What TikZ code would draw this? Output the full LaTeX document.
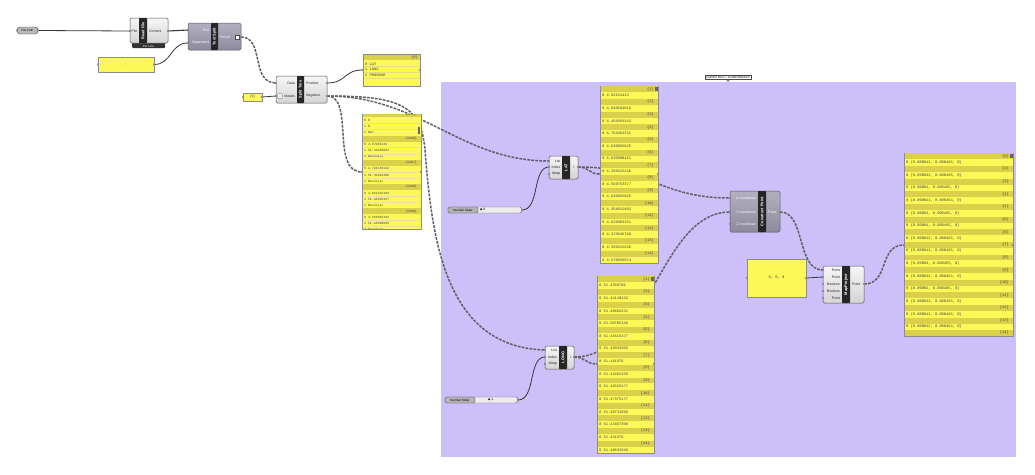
\documentclass[tikz,border=0pt]{standalone}
\usepackage{fontspec}
\setmainfont{Liberation Sans}
\newfontfamily\pmono{Liberation Mono}
\newfontfamily\dvs{DejaVu Sans}
\usetikzlibrary{calc}
\pgfdeclarelayer{grplayer}
\pgfdeclarelayer{wirelayer}
\pgfsetlayers{grplayer,wirelayer,main}
\definecolor{grp}{RGB}{205,191,249}
\definecolor{pyel}{RGB}{252,248,88}
\definecolor{phead}{RGB}{218,208,74}
\definecolor{wirec}{RGB}{55,55,60}
\definecolor{lwirec}{RGB}{95,95,102}
\definecolor{compt}{RGB}{246,246,246}
\definecolor{compb}{RGB}{212,212,212}
\definecolor{compdt}{RGB}{178,176,192}
\definecolor{compdb}{RGB}{140,138,156}
\definecolor{edge}{RGB}{85,85,90}
\tikzset{
 comp/.style={draw=edge, line width=0.5pt, rounded corners=1.5pt, top color=compt, bottom color=compb, inner sep=0pt},
 compdk/.style={draw=edge, line width=0.5pt, rounded corners=1.5pt, top color=compdt, bottom color=compdb, inner sep=0pt},
 stripbox/.style={fill=black!85, inner sep=0pt, rounded corners=0.6pt},
 striptext/.style={text=white, font=\fontsize{3.9}{4}\selectfont\bfseries, rotate=90, inner sep=0pt},
 lab/.style={font=\fontsize{3.5}{4}\selectfont, inner sep=0pt, text=black!85},
 labw/.style={lab, text=white},
 port/.style={circle, draw=black!80, fill=white, line width=0.3pt, inner sep=0pt, minimum size=2pt},
 wire/.style={draw=wirec, line width=0.8pt},
 lwire/.style={draw=lwirec, line width=1.5pt, dash pattern=on 2.8pt off 1.2pt},
 panel/.style={draw=black!45, line width=0.5pt, fill=pyel, inner sep=0pt},
 ptx/.style={font=\pmono\fontsize{3.7}{4}\selectfont, inner sep=0pt, text=black!75},
 ptxs/.style={font=\pmono\fontsize{3.2}{3.5}\selectfont, inner sep=0pt, text=black!75},
 slab/.style={font=\fontsize{3}{3}\selectfont, inner sep=0pt},
}
\begin{document}
\begin{tikzpicture}[x=1pt,y=-1pt]
\useasboundingbox (0,0) rectangle (1035,474);
% background and group
\begin{pgfonlayer}{grplayer}
\fill[white] (0,0) rectangle (1035,474);
\fill[grp] (441,82) rectangle (1016,457);
\end{pgfonlayer}
\node[draw=black!70, fill=white, font=\fontsize{3.3}{3.5}\selectfont, inner xsep=1.2pt, inner ysep=0.8pt] (gtitle) at (728,77.5) {CONSTRUCT COORDINATE};
\fill[black!70] (726.5,80.3) -- (729.5,80.3) -- (728,82) -- cycle;

% File Path
\node[draw=black!75, fill=gray!55, rounded corners=3pt, minimum width=21pt, minimum height=7pt, inner sep=0pt, font=\fontsize{3}{3}\selectfont] (filepath) at (27.5,30.5) {File Path};
\node[port] (fp-in) at (17,30.5) {};
\node[port] (fp-out) at (38,30.5) {};

% Read File
\node[fill=black!80, rounded corners=1pt, minimum width=33pt, minimum height=7pt, inner sep=0pt] (perline) at (148.5,44.5) {};
\node[slab, text=white] at (148.5,46) {Per Line};
\node[comp, minimum width=38pt, minimum height=25pt] (readfile) at (149,30.5) {};
\node[stripbox, minimum width=8pt, minimum height=25pt] (rfstrip) at (143,30.5) {};
\node[striptext] at (rfstrip) {Read File};
\node[lab, anchor=east] at (137.5,31) {File};
\node[lab, anchor=west] at (149,31) {Content};
\node[port] (rf-in) at (130,31) {};
\node[port] (rf-out) at (168,31) {};

% Text Split
\node[compdk, minimum width=53pt, minimum height=27pt] (textsplit) at (214.5,36.5) {};
\node[stripbox, minimum width=7pt, minimum height=27pt] (tsstrip) at (214.5,36.5) {};
\node[striptext] at (tsstrip) {Text Split};
\node[labw, anchor=east] at (209.5,30) {Text};
\node[labw, anchor=east] at (209.5,43) {Separators};
\node[labw, anchor=west] at (220,37) {Result};
\draw[black!70, fill=white, line width=0.3pt] (235,35) rectangle (239,39);
\node[port] (ts-text) at (188,30) {};
\node[port] (ts-sep) at (188,43) {};
\node[port] (ts-out) at (241,37) {};

% comma panel
\node[panel, minimum width=56pt, minimum height=15pt] (pcomma) at (126,64.5) {};
\node[ptx] at (126,64.5) {,};
\node[port] (pc-in) at (98,64.5) {};
\node[port] (pc-out) at (154,64.5) {};

% Split Tree
\node[comp, minimum width=51pt, minimum height=27pt] (splittree) at (301.5,89.5) {};
\node[stripbox, minimum width=7pt, minimum height=27pt] (ststrip) at (300.5,89.5) {};
\node[striptext] at (ststrip) {Split Tree};
\node[lab, anchor=east] at (295,83) {Data};
\node[lab, anchor=east] at (295,96) {Masks};
\draw[black!70, fill=white, line width=0.3pt, rounded corners=0.5pt] (277.8,93.8) rectangle (282.2,98.2);
\fill[black!70] (280,96) circle (0.7pt);
\node[lab, anchor=west] at (306,83) {Positive};
\node[lab, anchor=west] at (306,96) {Negative};
\node[port] (st-data) at (276,83) {};
\node[port] (st-mask) at (276,96) {};
\node[port] (st-pos) at (327,83) {};
\node[port] (st-neg) at (327,96) {};

% {0} panel
\node[panel, minimum width=19pt, minimum height=8pt] (pzero) at (252.5,97) {};
\node[ptxs] at (252.5,97) {\{0\}};
\node[port] (p0-in) at (243,97) {};
\node[port] (p0-out) at (262,97) {};

% names panel
\node[panel, minimum width=57pt, minimum height=32pt] (pnames) at (391.5,70) {};
\fill[phead] (363.5,54.5) rectangle (419.5,60);
\node[ptx, anchor=east] at (418,57.3) {\{0\}};
\node[ptx, anchor=west] at (365,63.8) {0 LAT};
\node[ptx, anchor=west] at (365,69.4) {1 LONG};
\node[ptx, anchor=west] at (365,75) {2 PROGRAM};
\foreach \yy in {66.6,72.2,77.8} \draw[phead!70, line width=0.3pt] (363.5,\yy) -- (419.5,\yy);
\node[port] (pn-in) at (363,70) {};
\node[port] (pn-out) at (420,70) {};

% big data panel
\node[panel, minimum width=59pt, minimum height=115pt] (pbig) at (391.5,171.5) {};
\begin{scope}
\clip (362.3,114.3) rectangle (420.7,228.7);
\foreach \h/\a/\b/\c [count=\g from -1] in {1365/0/0/Bar, 1366/4.57045343/51.33469601/Business, 1367/4.724136132/51.33283386/Business, 1368/4.921215194/51.42665457/Business, 1369/4.353605161/51.42668604/Business}{
  \pgfmathsetmacro\yt{135.5+\g*24.3}
  \fill[phead] (362.5,\yt) rectangle (420.5,\yt+6);
  \node[ptxs, anchor=east] at (417,\yt+3) {\{\h\}};
  \node[ptxs, anchor=west] at (364,\yt+9.05) {0 \a};
  \node[ptxs, anchor=west] at (364,\yt+15.15) {1 \b};
  \node[ptxs, anchor=west] at (364,\yt+21.25) {2 \c};
  \draw[phead!60, line width=0.25pt] (362.5,\yt+12.1) -- (420.5,\yt+12.1);
  \draw[phead!60, line width=0.25pt] (362.5,\yt+18.2) -- (420.5,\yt+18.2);
}
\end{scope}
\fill[black!60] (417.6,127) rectangle (420,134);
\node[port] (pb-in) at (362,172) {};
\node[port] (pb-out) at (421,172) {};

% LAT component
\node[comp, minimum width=29pt, minimum height=23pt] (lat) at (563.5,167.5) {};
\node[stripbox, minimum width=8pt, minimum height=23pt] (latstrip) at (566,167.5) {};
\node[striptext] at (latstrip) {LAT};
\node[lab, anchor=east] at (560.5,161) {List};
\node[lab, anchor=east] at (560.5,167) {Index};
\node[lab, anchor=east] at (560.5,174) {Wrap};
\node[lab] at (574,167) {i};
\node[port] (lat-list) at (549,161) {};
\node[port] (lat-idx) at (549,167) {};
\node[port] (lat-wrap) at (549,174) {};
\node[port] (lat-out) at (578,167) {};

% slider 1
\node[draw=black!60, fill=gray!15, rounded corners=2.5pt, minimum width=74pt, minimum height=6pt, inner sep=0pt] (slider1) at (485,210) {};
\node[draw=black!60, fill=gray!60, rounded corners=1.5pt, minimum width=30pt, minimum height=6pt, inner sep=0pt, slab] (sl1lab) at (463,210) {Number Slider};
\node[font=\dvs\fontsize{3}{3}\selectfont, inner sep=0pt, anchor=west] at (480,210) {◆ 0};
\node[port] (sl1-out) at (522,210) {};

% LONG component
\node[comp, minimum width=29pt, minimum height=23pt] (long) at (559.5,357.5) {};
\node[stripbox, minimum width=8pt, minimum height=23pt] (longstrip) at (563,357.5) {};
\node[striptext] at (longstrip) {LONG};
\node[lab, anchor=east] at (557,350) {List};
\node[lab, anchor=east] at (557,357) {Index};
\node[lab, anchor=east] at (557,364) {Wrap};
\node[lab] at (570.5,357) {i};
\node[port] (long-list) at (545,350) {};
\node[port] (long-idx) at (545,357) {};
\node[port] (long-wrap) at (545,364) {};
\node[port] (long-out) at (574,357) {};

% slider 2
\node[draw=black!60, fill=gray!15, rounded corners=2.5pt, minimum width=73pt, minimum height=6pt, inner sep=0pt] (slider2) at (481.5,400) {};
\node[draw=black!60, fill=gray!60, rounded corners=1.5pt, minimum width=30pt, minimum height=6pt, inner sep=0pt, slab] (sl2lab) at (460,400) {Number Slider};
\node[font=\dvs\fontsize{3}{3}\selectfont, inner sep=0pt, anchor=west] at (488,400) {◆ 1};
\node[port] (sl2-out) at (518,400) {};

% LAT panel
\node[panel, minimum width=58pt, minimum height=177pt] (plat) at (629,174.5) {};
\foreach \v [count=\k] in {4.92154413,4.949694816,4.459393342,4.754464331,4.636092025,4.635000461,4.394522246,4.559753377,4.636092025,4.354012963,4.629983331,4.323046768,4.394522246,4.570036074}{
  \pgfmathsetmacro\yt{86+(\k-1)*12.64}
  \fill[phead] (600.5,\yt+0.4) rectangle (657.5,\yt+6.3);
  \node[ptx, anchor=east] at (654,\yt+3.3) {\{\k\}};
  \node[ptx, anchor=west] at (602,\yt+9.5) {0 \v};
}
\fill[black!60] (655.3,86.6) rectangle (657.5,91);
\node[port] (plat-in) at (600,174) {};
\node[port] (plat-out) at (658,174) {};

% LONG panel
\node[panel, minimum width=57pt, minimum height=177pt] (plong) at (625.5,364.5) {};
\foreach \v [count=\k] in {51.4350706,51.44140332,51.40666331,51.50705345,51.44515477,51.45033905,51.441975,51.43282336,51.44515477,51.47375177,51.40731896,51.43407306,51.441975,51.40633946}{
  \pgfmathsetmacro\yt{276+(\k-1)*12.64}
  \fill[phead] (597.5,\yt+0.4) rectangle (653.5,\yt+6.3);
  \node[ptx, anchor=east] at (650,\yt+3.3) {\{\k\}};
  \node[ptx, anchor=west] at (599,\yt+9.5) {0 \v};
}
\fill[black!60] (651.3,276.6) rectangle (653.5,281);
\node[port] (plong-in) at (597,364) {};
\node[port] (plong-out) at (654,364) {};

% Construct Point
\node[compdk, minimum width=50pt, minimum height=41pt] (cpt) at (755,211.5) {};
\node[stripbox, minimum width=8pt, minimum height=41pt] (cpstrip) at (762,211.5) {};
\node[striptext] at (cpstrip) {Construct Point};
\node[labw, anchor=east] at (756,198) {X coordinate};
\node[labw, anchor=east] at (756,212) {Y coordinate};
\node[labw, anchor=east] at (756,224) {Z coordinate};
\node[labw, anchor=west] at (768,212) {Point};
\node[port] (cp-x) at (730,198) {};
\node[port] (cp-y) at (730,212) {};
\node[port] (cp-z) at (730,224) {};
\node[port] (cp-out) at (780,212) {};

% 0,0,0 panel
\node[panel, minimum width=59pt, minimum height=38pt] (porig) at (776.5,278) {};
\node[ptx] at (776.5,278) {0, 0, 0};
\node[port] (pz-in) at (747,278) {};
\node[port] (pz-out) at (806,278) {};

% MapProject
\node[comp, minimum width=41pt, minimum height=37pt] (mapproj) at (843.5,284.5) {};
\node[stripbox, minimum width=8pt, minimum height=37pt] (mpstrip) at (846,284.5) {};
\node[striptext] at (mpstrip) {MapProject};
\node[lab, anchor=east] at (840,270) {Point};
\node[lab, anchor=east] at (840,277) {Point};
\node[lab, anchor=east] at (840,284) {Boolean};
\node[lab, anchor=east] at (840,291) {Boolean};
\node[lab, anchor=east] at (840,298) {Point};
\node[lab, anchor=west] at (852,284) {Point};
\node[port] (mp-p1) at (823,270) {};
\node[port] (mp-p2) at (823,277) {};
\node[port] (mp-b1) at (823,284) {};
\node[port] (mp-b2) at (823,291) {};
\node[port] (mp-p3) at (823,298) {};
\node[port] (mp-out) at (864,284) {};

% output panel
\node[panel, minimum width=109pt, minimum height=183pt] (pout) at (958.5,244.5) {};
\foreach \a/\b [count=\k from 0] in {0.000042/0.000465,0.000042/0.000465,0.00004/0.000465,0.000041/0.000464,0.00004/0.000465,0.00004/0.000465,0.000042/0.000465,0.000042/0.000465,0.00004/0.000465,0.000042/0.000464,0.00004/0.000465,0.000042/0.000465,0.000042/0.000465,0.000042/0.000464}{
  \pgfmathsetmacro\yt{153+\k*12.64}
  \fill[phead] (904.5,\yt+0.4) rectangle (1012.5,\yt+6.3);
  \node[ptx, anchor=east] at (1009,\yt+3.3) {\{\k\}};
  \node[ptx, anchor=west] at (906,\yt+9.5) {0 \{\a, \b, 0\}};
}
\fill[phead] (904.5,330.4) rectangle (1012.5,335.5);
\node[ptx, anchor=east] at (1009,333) {\{14\}};
\fill[black!60] (1010.3,153.6) rectangle (1012.5,158);
\node[port] (pout-in) at (904,245) {};
\node[port] (pout-out) at (1013,245) {};

% wires
\begin{pgfonlayer}{wirelayer}
\draw[wire] (fp-out.center) -- (rf-in.center);
\draw[wire, line width=1.1pt] (rf-out.center) .. controls (178,31) and (178,30) .. (ts-text.center);
\draw[wire] (pc-out.center) .. controls (172,64.5) and (170,43) .. (ts-sep.center);
\draw[lwire] (ts-out.center) .. controls (265,37) and (250,83) .. (st-data.center);
\draw[wire] (p0-out.center) -- (st-mask.center);
\draw[wire] (st-pos.center) .. controls (347,83) and (343,70) .. (pn-in.center);
\draw[lwire] (st-neg.center) .. controls (355,96) and (330,172) .. (pb-in.center);
\draw[lwire] (st-neg.center) .. controls (420,96) and (460,161) .. (lat-list.center);
\draw[lwire] (st-neg.center) .. controls (400,96) and (421,105) .. (425,150) .. controls (432,240) and (445,347) .. (long-list.center);
\draw[wire] (sl1-out.center) .. controls (540,210) and (532,167) .. (lat-idx.center);
\draw[lwire] (lat-out.center) .. controls (590,167) and (588,174) .. (plat-in.center);
\draw[lwire] (lat-out.center) .. controls (650,167) and (660,198) .. (cp-x.center);
\draw[wire] (sl2-out.center) .. controls (536,400) and (528,357) .. (long-idx.center);
\draw[lwire] (long-out.center) .. controls (586,357) and (585,364) .. (plong-in.center);
\draw[lwire] (long-out.center) .. controls (650,357) and (660,212) .. (cp-y.center);
\draw[lwire] (cp-out.center) .. controls (806,212) and (796,270) .. (mp-p1.center);
\draw[wire] (pz-out.center) -- (mp-p2.center);
\draw[lwire] (mp-out.center) .. controls (890,284) and (878,245) .. (pout-in.center);
\end{pgfonlayer}
\end{tikzpicture}
\end{document}
